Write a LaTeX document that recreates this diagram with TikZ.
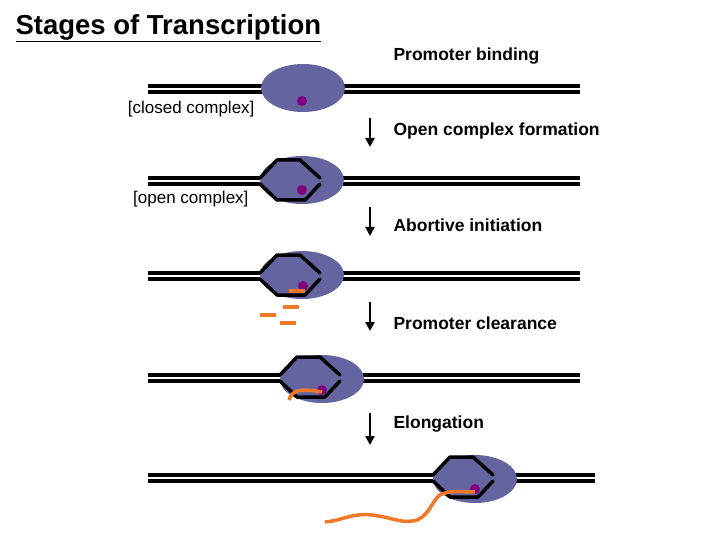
\documentclass[tikz,border=0pt]{standalone}
\usepackage{fontspec}
\setmainfont{Liberation Sans}
\usetikzlibrary{arrows.meta}
\begin{document}
\begin{tikzpicture}[x=1pt,y=-1pt,
  strand/.style={line width=3.5pt,black},
  pol/.style={fill={rgb,255:red,100;green,100;blue,160}},
  dot/.style={fill={rgb,255:red,128;green,0;blue,128}},
  rna/.style={line width=3.5pt,draw={rgb,255:red,240;green,120;blue,40}},
  stage arrow/.style={-{Triangle[length=9pt,width=9pt]},line width=2.5pt},
  lbl/.style={anchor=west,font=\fontsize{17.5}{20}\selectfont\bfseries},
  tag/.style={font=\fontsize{17}{20}\selectfont}]
\useasboundingbox (0,0) rectangle (720,540);
\node[anchor=west,font=\fontsize{27.5}{30}\selectfont\bfseries] (title) at (12,28) {\underline{Stages of Transcription}};
% helper: duplex
\newcommand{\duplex}[3]{\draw[strand] (#1,#3) -- (#2,#3); \draw[strand] (#1,#3+6) -- (#2,#3+6);}
\newcommand{\bubble}[2]{%
  \fill[pol] (#1-36,#2-3) rectangle (#1+12,#2+9);
  \draw[strand,line join=round,line cap=round] (#1-42,#2) -- (#1-25,#2-18) -- (#1-2,#2-18) -- (#1+18,#2);
  \draw[strand,line join=round,line cap=round] (#1-42,#2+6) -- (#1-25,#2+22) -- (#1+3,#2+22) -- (#1+18,#2+6);}
% row 1
\duplex{148}{580}{86}
\fill[pol] (303,88) ellipse (42 and 24);
\fill[dot] (302,101) circle (5);
\node[tag,anchor=east] (c1) at (258,109) {[closed complex]};
\node[lbl] (l0) at (390,56) {Promoter binding};
% row 2
\duplex{148}{580}{178}
\fill[pol] (302,180) ellipse (42 and 24);
\bubble{302}{178}
\fill[dot] (302,190) circle (5);
\node[tag,anchor=east] (c2) at (252,199) {[open complex]};
% row 3
\duplex{148}{580}{273}
\fill[pol] (302,275) ellipse (42 and 24);
\bubble{302}{273}
\fill[dot] (303,286) circle (5);
\draw[rna] (289,291) -- (305,291);
\draw[rna] (283,307) -- (299,307);
\draw[rna] (260,315) -- (276,315);
\draw[rna] (280,323) -- (296,323);
% row 4
\duplex{148}{580}{375}
\fill[pol] (322,379) ellipse (42 and 24);
\bubble{322}{375}
\fill[dot] (322,390) circle (5);
\draw[rna] (289,400) .. controls (292,390) and (300,388) .. (322,392);
% row 5
\duplex{148}{595}{475}
\fill[pol] (475,479) ellipse (42 and 24);
\bubble{475}{475}
\fill[dot] (475,489) circle (5);
\draw[rna] (325,522) .. controls (345,520) and (350,513) .. (372,515)
  .. controls (390,517) and (400,523) .. (412,521)
  .. controls (428,520) and (432,500) .. (440,495)
  .. controls (450,490) and (460,492) .. (475,492);
% arrows and labels
\coordinate (a1) at (370,118); \coordinate (b1) at (370,147);
\coordinate (a2) at (370,207); \coordinate (b2) at (370,236);
\coordinate (a3) at (370,302); \coordinate (b3) at (370,331);
\coordinate (a4) at (370,413); \coordinate (b4) at (370,445);
\draw[stage arrow] (a1) -- (b1); \draw[stage arrow] (a2) -- (b2);
\draw[stage arrow] (a3) -- (b3); \draw[stage arrow] (a4) -- (b4);
\node[lbl] (l1) at (390,131) {Open complex formation};
\node[lbl] (l2) at (390,225) {Abortive initiation};
\node[lbl] (l3) at (390,323) {Promoter clearance};
\node[lbl] (l4) at (390,424) {Elongation};
\end{tikzpicture}
\end{document}
